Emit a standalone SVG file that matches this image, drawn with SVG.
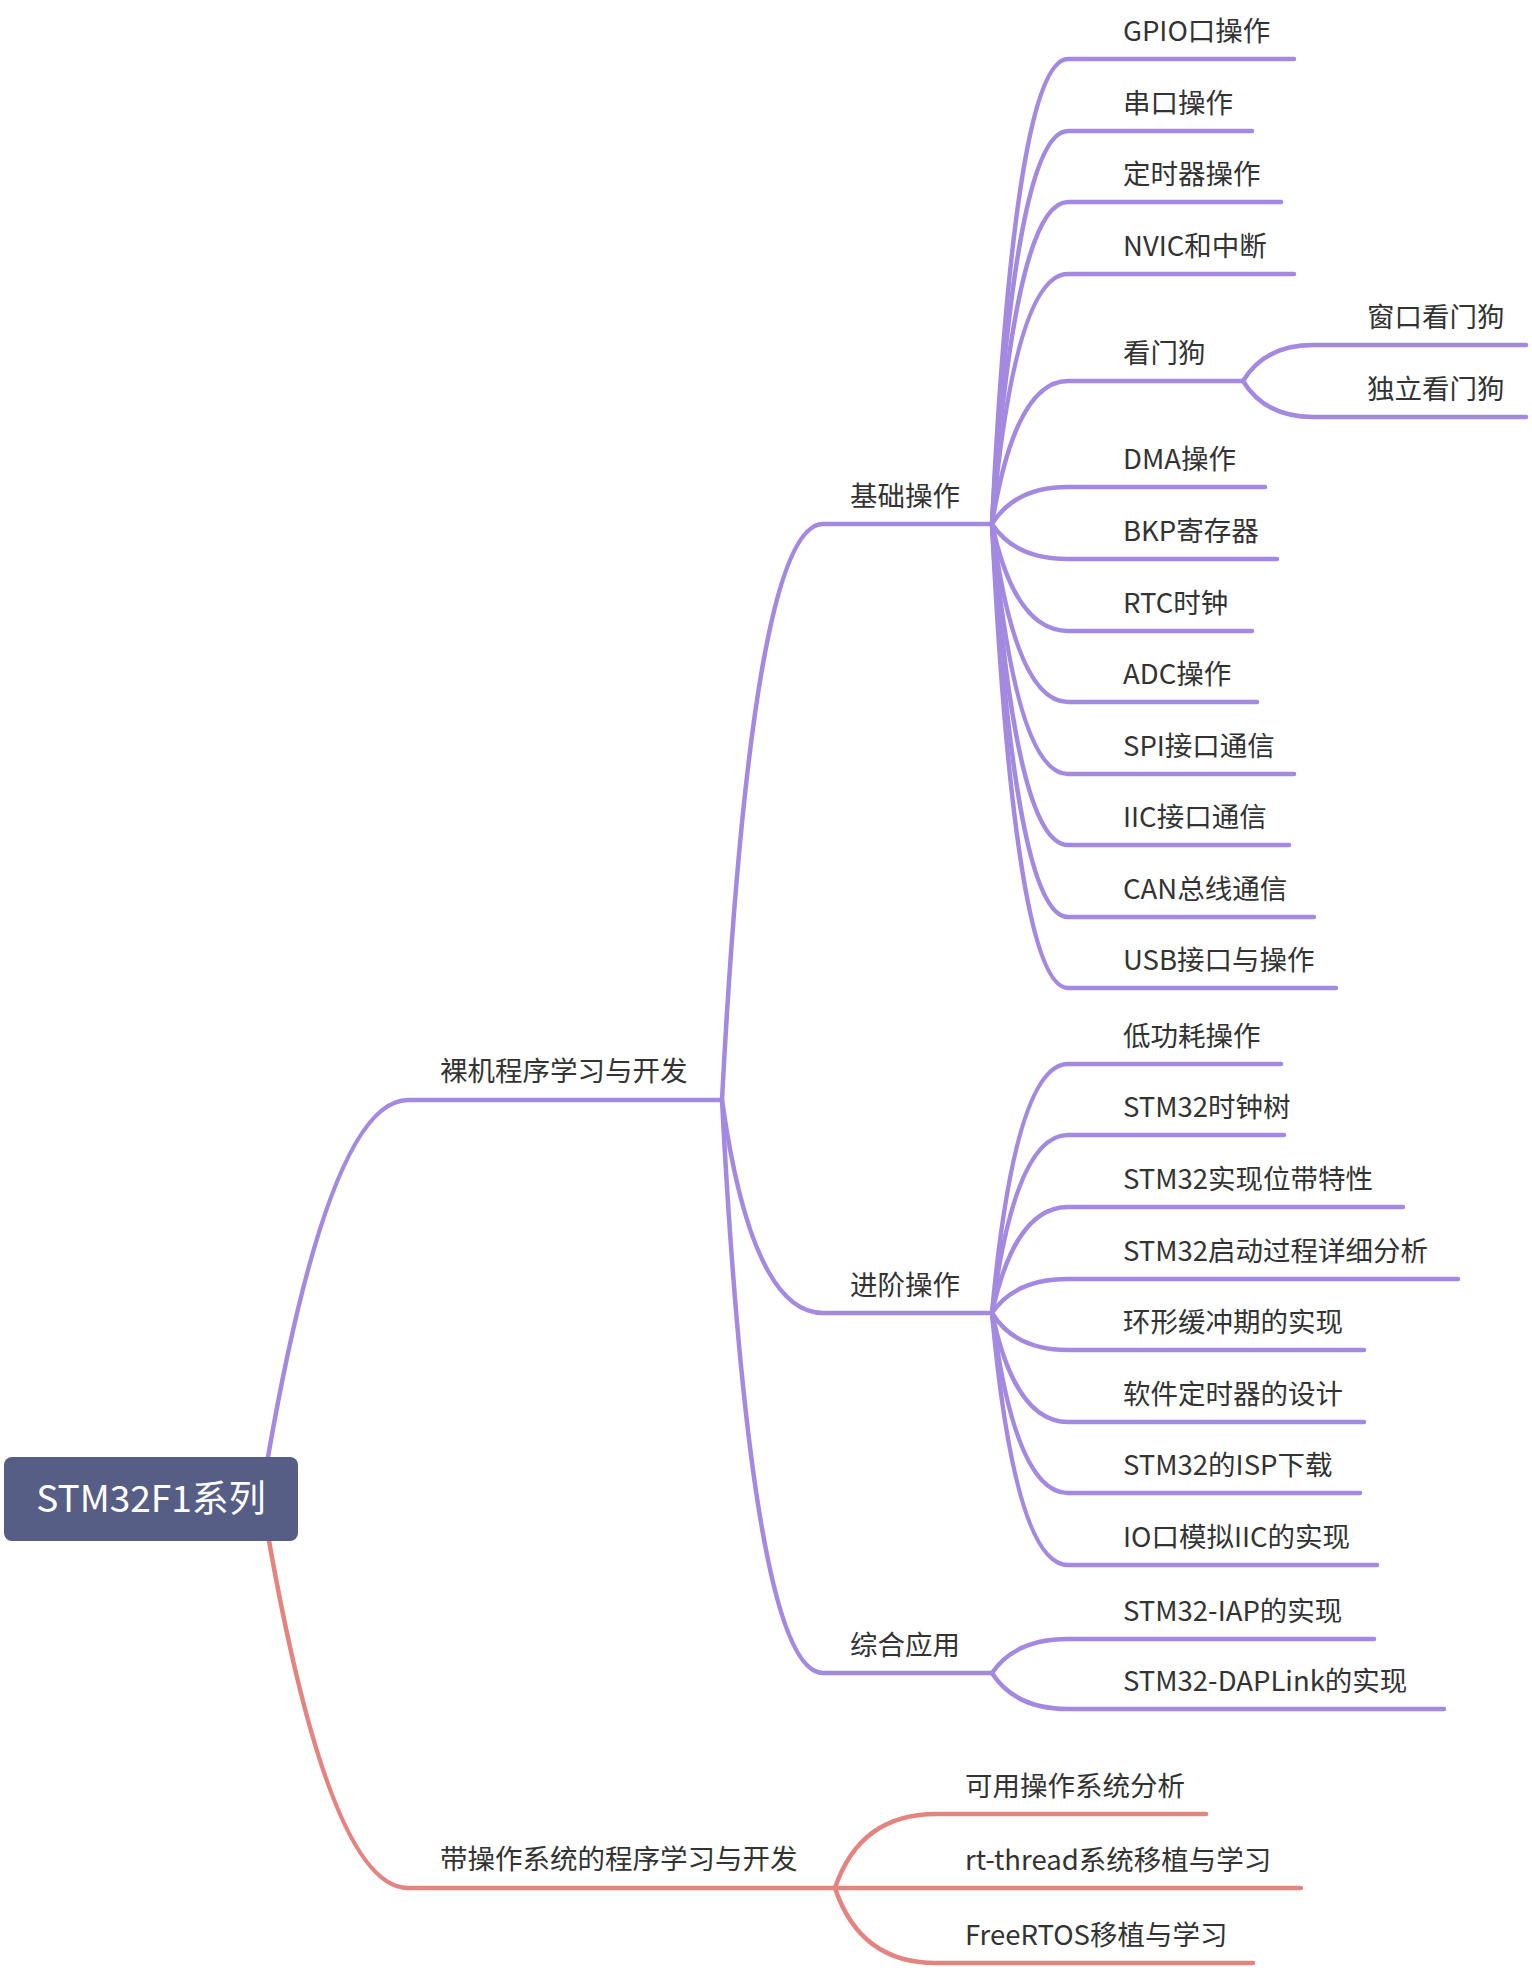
<svg xmlns="http://www.w3.org/2000/svg" width="1532" height="1976" viewBox="0 0 1532 1976">
<style>
.p{fill:none;stroke:#A389E0;stroke-width:4.5;stroke-linecap:round}
.r{fill:none;stroke:#E48480;stroke-width:4.5;stroke-linecap:round}
text{font-family:"Noto Sans CJK SC","Open Sans",sans-serif;font-size:27.5px;fill:#333}
.root{font-size:37px;fill:#fff;text-anchor:middle}
</style>
<rect width="1532" height="1976" fill="#fff"/>
<g id="connectors">
<path class="p" d="M268 1457 Q330 1100 408 1100 H722"/>
<path class="r" d="M268 1535 Q330 1888 408 1888 H835"/>
<path class="p" d="M722 1100 Q752 524 823 524 H992"/>
<path class="p" d="M722 1100 Q752 1313 823 1313 H992"/>
<path class="p" d="M722 1100 Q752 1673 823 1673 H992"/>
<g id="c1">
<path class="p" d="M992 524 Q1015 59 1068 59 H1294"/>
<path class="p" d="M992 524 Q1015 131 1068 131 H1252"/>
<path class="p" d="M992 524 Q1015 202 1068 202 H1281"/>
<path class="p" d="M992 524 Q1015 274 1068 274 H1294"/>
<path class="p" d="M992 524 Q1015 381 1068 381 H1243"/>
<path class="p" d="M992 524 Q1015 487 1068 487 H1265"/>
<path class="p" d="M992 524 Q1015 559 1068 559 H1277"/>
<path class="p" d="M992 524 Q1015 631 1068 631 H1252"/>
<path class="p" d="M992 524 Q1015 702 1068 702 H1257"/>
<path class="p" d="M992 524 Q1015 774 1068 774 H1294"/>
<path class="p" d="M992 524 Q1015 845 1068 845 H1289"/>
<path class="p" d="M992 524 Q1015 917 1068 917 H1314"/>
<path class="p" d="M992 524 Q1015 988 1068 988 H1336"/>
<path class="p" d="M1243 381 Q1265 345 1313 345 H1526"/>
<path class="p" d="M1243 381 Q1265 417 1313 417 H1526"/>
</g>
<g id="c2">
<path class="p" d="M992 1313 Q1015 1064 1068 1064 H1281"/>
<path class="p" d="M992 1313 Q1015 1135 1068 1135 H1284"/>
<path class="p" d="M992 1313 Q1015 1207 1068 1207 H1403"/>
<path class="p" d="M992 1313 Q1015 1279 1068 1279 H1458"/>
<path class="p" d="M992 1313 Q1015 1350 1068 1350 H1364"/>
<path class="p" d="M992 1313 Q1015 1422 1068 1422 H1364"/>
<path class="p" d="M992 1313 Q1015 1493 1068 1493 H1360"/>
<path class="p" d="M992 1313 Q1015 1565 1068 1565 H1377"/>
<path class="p" d="M992 1673 Q1015 1639 1068 1639 H1374"/>
<path class="p" d="M992 1673 Q1015 1709 1068 1709 H1444"/>
</g>
<path class="r" d="M835 1888 Q860 1814 936 1814 H1206"/>
<path class="r" d="M835 1888 H1301"/>
<path class="r" d="M835 1888 Q860 1963 936 1963 H1253"/>
</g>
<g id="root"><rect x="4" y="1457" width="294" height="84" rx="8" fill="#565E85"/><text class="root" x="151" y="1512">STM32F1系列</text></g>
<g id="n1"><text x="440" y="1081">裸机程序学习与开发</text></g>
<g id="n2"><text x="440" y="1869">带操作系统的程序学习与开发</text></g>
<g id="n3"><text x="850" y="506">基础操作</text></g>
<g id="n4"><text x="850" y="1295">进阶操作</text></g>
<g id="n5"><text x="850" y="1655">综合应用</text></g>
<g id="leaves1">
<text x="1123" y="41">GPIO口操作</text>
<text x="1123" y="113">串口操作</text>
<text x="1123" y="184">定时器操作</text>
<text x="1123" y="256">NVIC和中断</text>
<text x="1123" y="363">看门狗</text>
<text x="1367" y="327">窗口看门狗</text>
<text x="1367" y="399">独立看门狗</text>
<text x="1123" y="469">DMA操作</text>
<text x="1123" y="541">BKP寄存器</text>
<text x="1123" y="613">RTC时钟</text>
<text x="1123" y="684">ADC操作</text>
<text x="1123" y="756">SPI接口通信</text>
<text x="1123" y="827">IIC接口通信</text>
<text x="1123" y="899">CAN总线通信</text>
<text x="1123" y="970">USB接口与操作</text>
</g>
<g id="leaves2">
<text x="1123" y="1046">低功耗操作</text>
<text x="1123" y="1117">STM32时钟树</text>
<text x="1123" y="1189">STM32实现位带特性</text>
<text x="1123" y="1261">STM32启动过程详细分析</text>
<text x="1123" y="1332">环形缓冲期的实现</text>
<text x="1123" y="1404">软件定时器的设计</text>
<text x="1123" y="1475">STM32的ISP下载</text>
<text x="1123" y="1547">IO口模拟IIC的实现</text>
<text x="1123" y="1621">STM32-IAP的实现</text>
<text x="1123" y="1691">STM32-DAPLink的实现</text>
</g>
<g id="leaves3">
<text x="965" y="1796">可用操作系统分析</text>
<text x="965" y="1870">rt-thread系统移植与学习</text>
<text x="965" y="1945">FreeRTOS移植与学习</text>
</g>
</svg>
